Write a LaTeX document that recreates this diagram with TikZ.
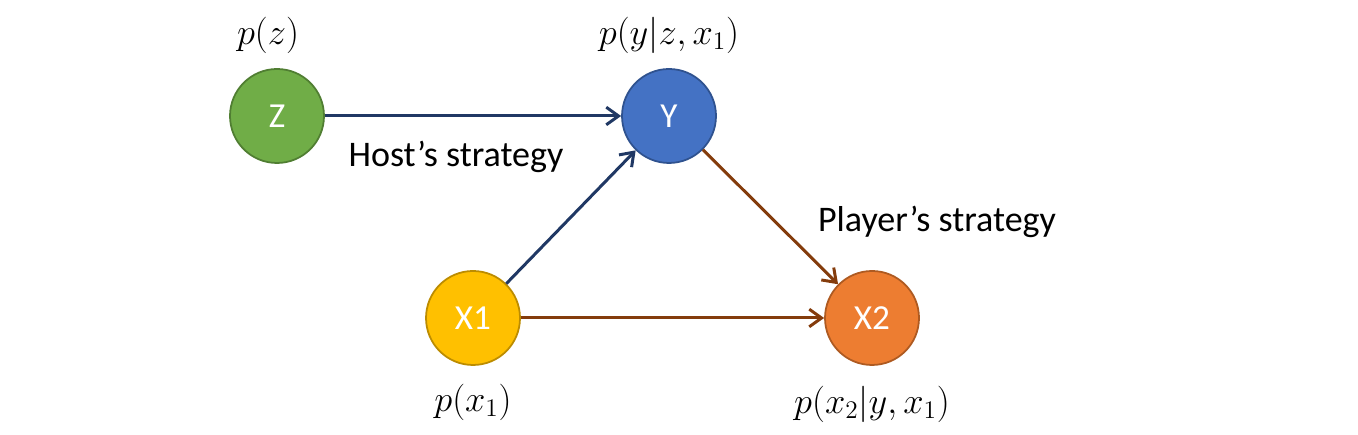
\documentclass[tikz,border=0pt]{standalone}
\usepackage{fontspec}
\setmainfont{Carlito}
\usetikzlibrary{arrows.meta,positioning}
\definecolor{zgreen}{HTML}{70AD47}
\definecolor{ygreen}{HTML}{507E32}
\definecolor{yblue}{HTML}{4472C4}
\definecolor{yblueb}{HTML}{2F528F}
\definecolor{xgold}{HTML}{FFC000}
\definecolor{xgoldb}{HTML}{BC8C00}
\definecolor{xorange}{HTML}{ED7D31}
\definecolor{xorangeb}{HTML}{AE5A21}
\definecolor{darkblue}{HTML}{203864}
\definecolor{brown}{HTML}{843C0C}
\begin{document}
\begin{tikzpicture}[>={Straight Barb[length=7pt,width=10pt]},
 var/.style={circle,minimum size=1.88cm,line width=1pt,text=white,font=\fontsize{20}{24}\selectfont},
 lbl/.style={font=\fontsize{20.5}{24}\selectfont},
 mlbl/.style={font=\fontsize{21}{25}\selectfont},
 edge/.style={->,line width=1.7pt}]
 \useasboundingbox (0,0) rectangle (27.16,8.7);
 \node[var,fill=zgreen,draw=ygreen] (Z) at (5.54,6.38) {Z};
 \node[var,fill=yblue,draw=yblueb] (Y) at (13.38,6.38) {Y};
 \node[var,fill=xgold,draw=xgoldb] (X1) at (9.46,2.34) {X1};
 \node[var,fill=xorange,draw=xorangeb] (X2) at (17.44,2.34) {X2};

 \node[mlbl] (pz) at (5.36,8.0) {$p(z)$};
 \node[mlbl] (py) at (13.38,8.0) {$p(y|z,x_1)$};
 \node[mlbl] (px1) at (9.46,0.66) {$p(x_1)$};
 \node[mlbl] (px2) at (17.44,0.62) {$p(x_2|y,x_1)$};
 \node[lbl] (host) at (9.12,5.56) {Host’s strategy};
 \node[lbl] (player) at (18.74,4.26) {Player’s strategy};

 \draw[edge,darkblue] (Z) -- (Y);
 \draw[edge,darkblue] (X1) -- (Y);
 \draw[edge,brown] (Y) -- (X2);
 \draw[edge,brown] (X1) -- (X2);
\end{tikzpicture}
\end{document}
